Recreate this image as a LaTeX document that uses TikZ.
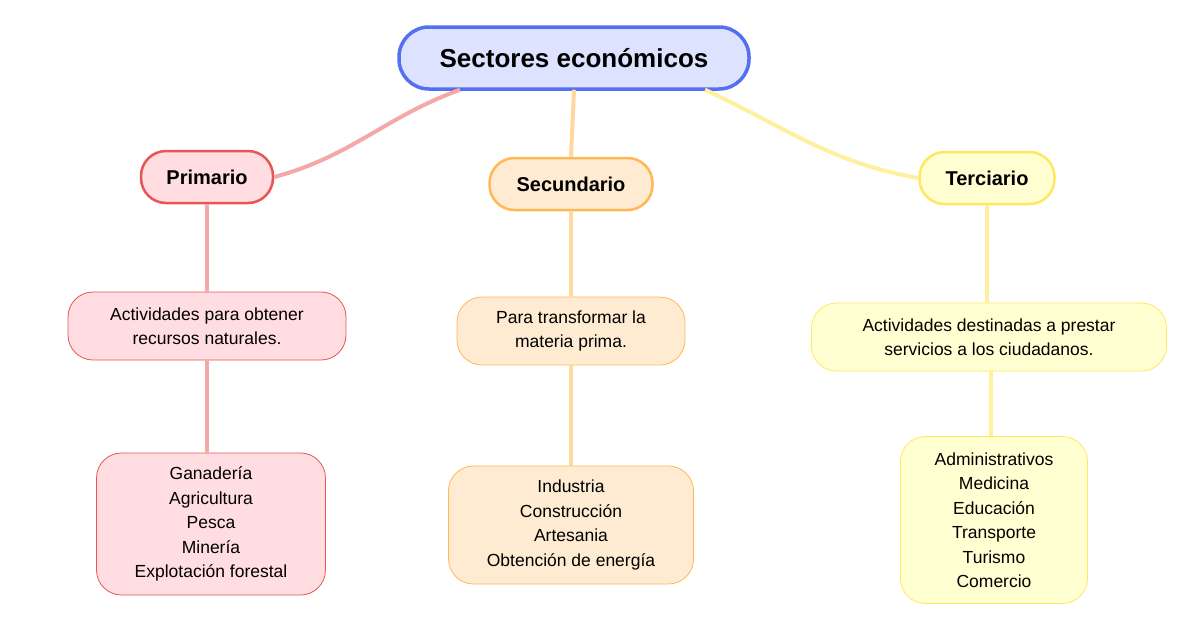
\documentclass[tikz,border=0pt]{standalone}
\usepackage{fontspec}
\setmainfont{Liberation Sans}
\begin{document}
\begin{tikzpicture}[x=1pt,y=-1pt,
  box/.style={draw, rounded corners=#1, align=center, inner sep=0pt},
  title/.style={box=30pt, fill=tfill, draw=tline, line width=3.5pt, font=\fontsize{26}{30}\selectfont\bfseries},
  head/.style={box=25pt, line width=2.5pt, font=\fontsize{20}{24}\selectfont\bfseries},
  body/.style={box=25pt, line width=0.8pt, font=\fontsize{17.5}{24.5}\selectfont},
  link/.style={line width=4pt}]
\definecolor{tfill}{HTML}{DDE3FF}\definecolor{tline}{HTML}{5470F0}
\definecolor{rfill}{HTML}{FFDDE0}\definecolor{rline}{HTML}{E85555}\definecolor{rlink}{HTML}{F5A8A8}
\definecolor{ofill}{HTML}{FFEBD2}\definecolor{oline}{HTML}{FFB855}\definecolor{olink}{HTML}{FFD8A0}
\definecolor{yfill}{HTML}{FFFFD2}\definecolor{yline}{HTML}{FFE860}\definecolor{ylink}{HTML}{FFF0A0}
\useasboundingbox[fill=white] (0,0) rectangle (1200,630);
\node[title, minimum width=350pt, minimum height=62pt] (t) at (574,58) {Sectores económicos};
\node[head, fill=rfill, draw=rline, minimum width=132pt, minimum height=52pt] (p) at (207,177) {Primario};
\node[head, fill=ofill, draw=oline, minimum width=163pt, minimum height=52pt] (s) at (571,184) {Secundario};
\node[head, fill=yfill, draw=yline, minimum width=135pt, minimum height=52pt] (r) at (987,178) {Terciario};
\node[body, fill=rfill, draw=rline, minimum width=278pt, minimum height=68pt] (p1) at (207,326) {Actividades para obtener\\recursos naturales.};
\node[body, fill=ofill, draw=oline, minimum width=228pt, minimum height=68pt] (s1) at (571,331) {Para transformar la\\materia prima.};
\node[body, fill=yfill, draw=yline, minimum width=355pt, minimum height=68pt] (r1) at (989,337) {Actividades destinadas a prestar\\servicios a los ciudadanos.};
\node[body, fill=rfill, draw=rline, minimum width=229pt, minimum height=142pt] (p2) at (211,524) {Ganadería\\Agricultura\\Pesca\\Minería\\Explotación forestal};
\node[body, fill=ofill, draw=oline, minimum width=245pt, minimum height=118pt] (s2) at (571,525) {Industria\\Construcción\\Artesania\\Obtención de energía};
\node[body, fill=yfill, draw=yline, minimum width=187pt, minimum height=167pt] (r2) at (994,520) {Administrativos\\Medicina\\Educación\\Transporte\\Turismo\\Comercio};
\draw[link, rlink] ([xshift=-114pt,yshift=1pt]t.south) to[out=200, in=15] (p.east);
\draw[link, olink] ([yshift=1pt]t.south) -- (s.north);
\draw[link, ylink] ([xshift=131pt,yshift=1pt]t.south) to[out=-25, in=170] (r.west);
\draw[link, rlink] (p.south) -- (p1.north);
\draw[link, rlink] (p1.south) -- ([xshift=-4pt]p2.north);
\draw[link, olink] (s.south) -- (s1.north);
\draw[link, olink] (s1.south) -- (s2.north);
\draw[link, ylink] (r.south) -- ([xshift=-2pt]r1.north);
\draw[link, ylink] ([xshift=2pt]r1.south) -- ([xshift=-3pt]r2.north);
\end{tikzpicture}
\end{document}
